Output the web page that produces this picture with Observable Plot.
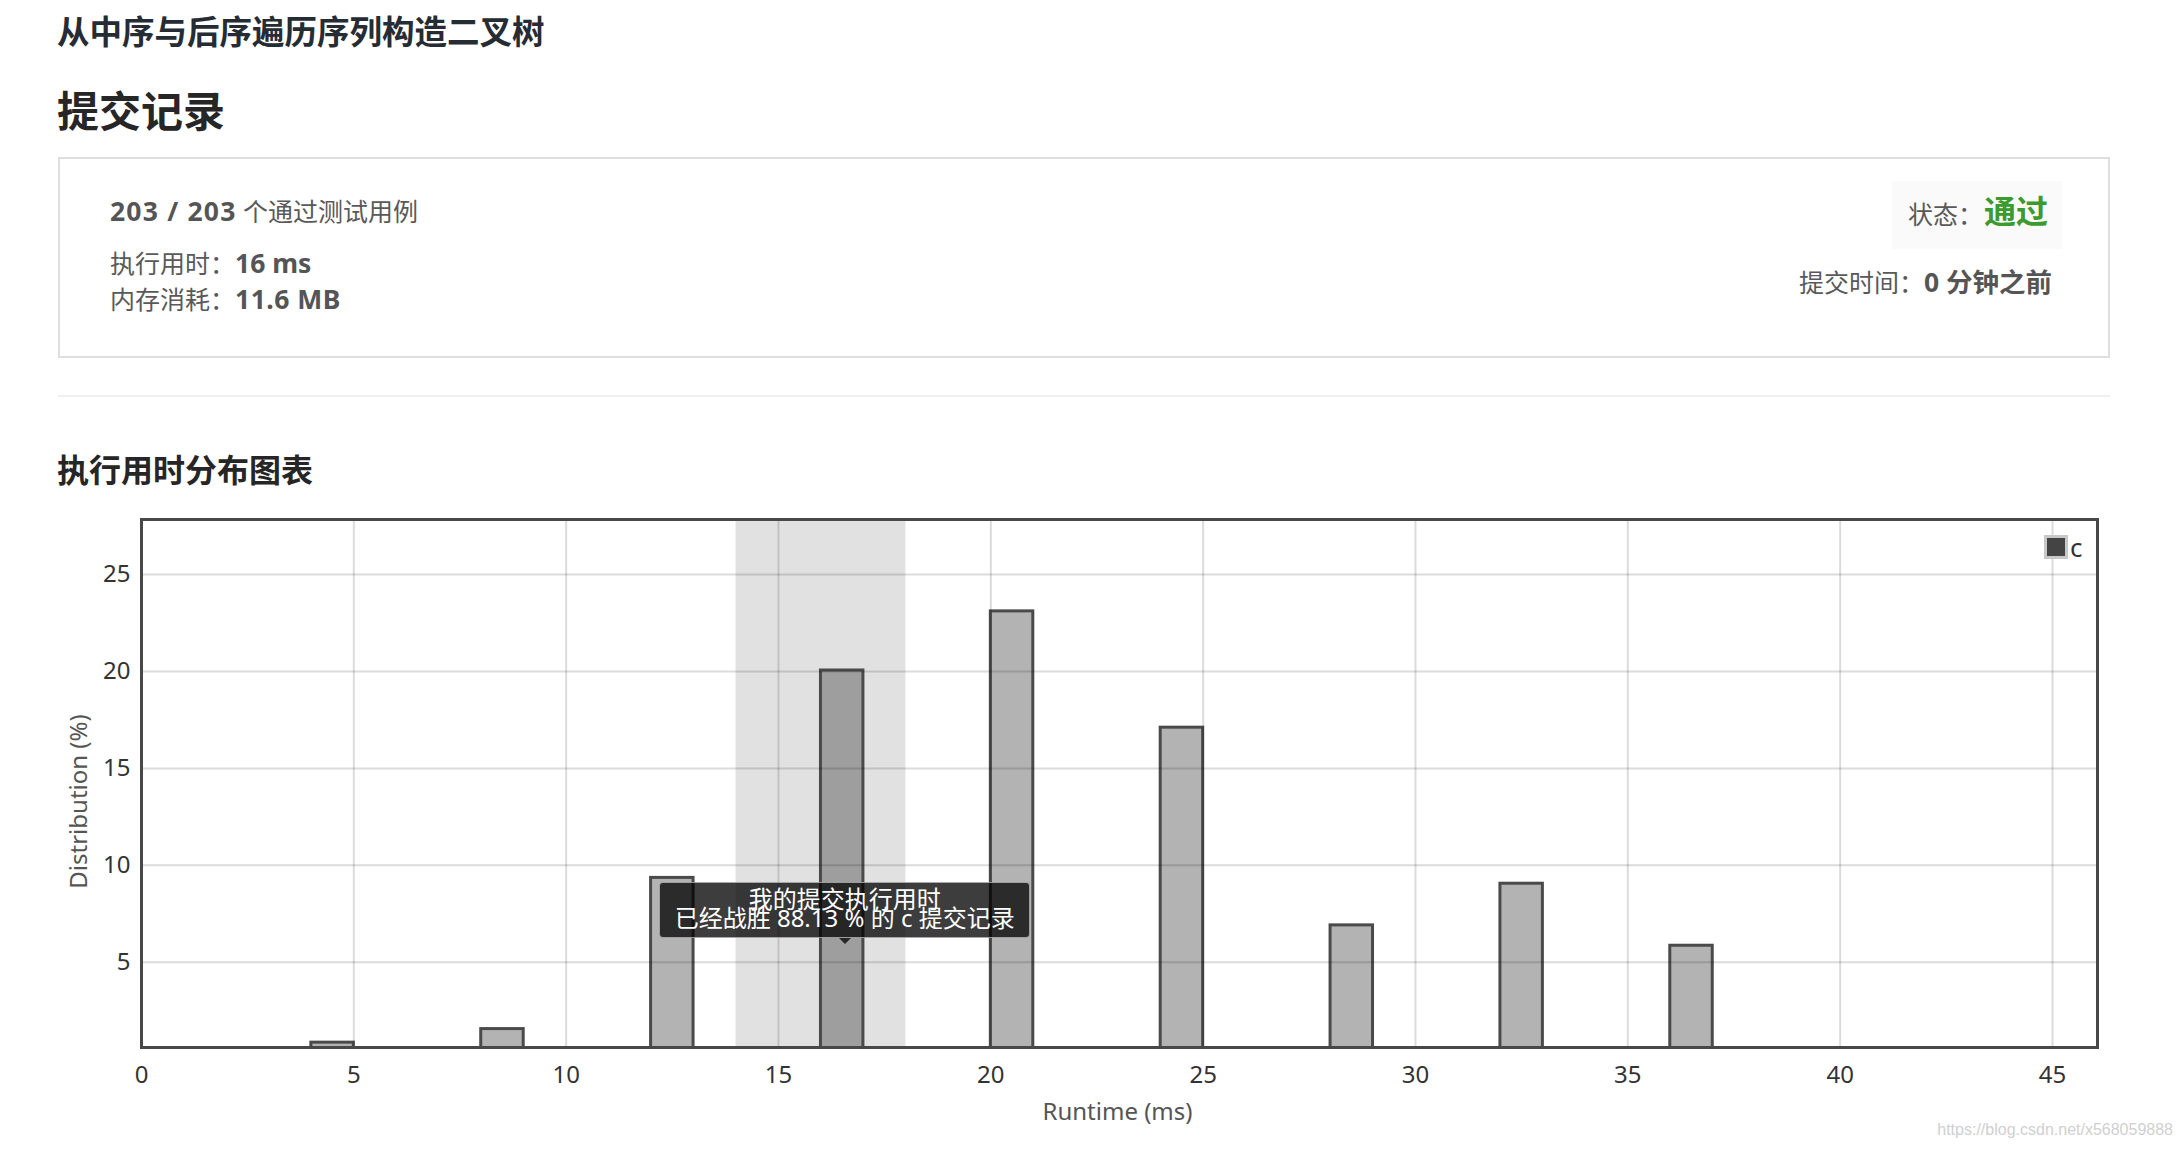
<!DOCTYPE html>
<html>
<head>
<meta charset="utf-8">
<script src="https://cdn.jsdelivr.net/npm/d3@7"></script>
<script src="https://cdn.jsdelivr.net/npm/@observablehq/plot@0.6"></script>
<style>
  html, body { margin: 0; padding: 0; background: #fff; }
  body { width: 2184px; height: 1150px; position: relative; overflow: hidden;
         font-family: "Noto Sans", "Noto Sans CJK SC", sans-serif; }
  .abs { position: absolute; white-space: nowrap; }
  .info { font-size: 25px; line-height: 25px; color: #595959; }
  .num { font-size: 26.5px; font-weight: 700; color: #555; }
</style>
</head>
<body>
<div class="abs" style="left:57px;top:14px;font-size:32.5px;line-height:32.5px;font-weight:600;color:#262c33;font-family:'Noto Sans CJK SC',sans-serif;">从中序与后序遍历序列构造二叉树</div>
<div class="abs" style="left:57px;top:90px;font-size:42px;line-height:42px;font-weight:700;color:#262626;">提交记录</div>

<div class="abs" style="left:58px;top:157px;width:2052px;height:201px;border:2px solid #dedede;box-sizing:border-box;"></div>
<div class="abs info" style="left:110px;top:199px;"><span class="num" style="letter-spacing:1.2px">203 / 203</span> 个通过测试用例</div>
<div class="abs info" style="left:110px;top:251px;">执行用时：<span class="num">16 ms</span></div>
<div class="abs info" style="left:110px;top:287px;">内存消耗：<span class="num" style="letter-spacing:0.5px">11.6 MB</span></div>

<div class="abs" style="left:1892px;top:181px;width:170px;height:68px;background:#fafafa;"></div>
<div class="abs info" style="left:1908px;top:202px;">状态：</div>
<div class="abs" style="left:1984px;top:195px;font-size:32px;line-height:32px;font-weight:700;color:#3d9a2e;">通过</div>
<div class="abs info" style="right:132px;top:270px;">提交时间：<span class="num">0 分钟之前</span></div>

<div class="abs" style="left:58px;top:395px;width:2052px;height:2px;background:#efefef;"></div>
<div class="abs" style="left:57px;top:454px;font-size:32px;line-height:32px;font-weight:700;color:#262626;">执行用时分布图表</div>

<div id="chart" class="abs" style="left:0;top:490px;"></div>
<div id="legend" class="abs" style="left:2044px;top:535px;display:flex;align-items:center;"></div>
<div id="tip" class="abs" style="top:882px;width:371px;height:56px;box-sizing:border-box;background:rgba(0,0,0,0.76);border:1px solid rgba(255,255,255,0.55);border-radius:4px;color:#fff;font-size:24px;line-height:19px;text-align:center;padding-top:6px;"></div>
<div id="tipArrow" class="abs" style="top:938px;width:0;height:0;border-left:6px solid transparent;border-right:6px solid transparent;border-top:6px solid rgba(0,0,0,0.76);"></div>

<div class="abs" style="right:11px;top:1122px;font-size:16px;line-height:16px;color:#d0d0d0;font-family:'Liberation Sans Narrow','Liberation Sans',sans-serif;">https://blog.csdn.net/x568059888</div>

<script>
// ---- data ----
const runtimes = [4, 8, 12, 16, 20, 24, 28, 32, 36];           // ms (bin start)
const distribution = [0.85, 1.55, 9.35, 20.05, 23.1, 17.1, 6.9, 9.05, 5.85]; // %
const binWidth = 1;
const myRuntime = 16;
const highlightRange = [14, 18];
const xTicks = [0, 5, 10, 15, 20, 25, 30, 35, 40, 45];
const yTicks = [5, 10, 15, 20, 25];
const xDomain = [0, 46.06];
const yDomain = [0.6, 27.84];
const languages = ["c"];
const beatPercent = 88.13;
const xLabel = "Runtime (ms)";
const yLabel = "Distribution (%)";

const bars = runtimes.map((r, i) => ({x1: r, x2: r + binWidth, y: distribution[i], mine: r === myRuntime}));

const plot = Plot.plot({
  width: 2184,
  height: 660,
  marginTop: 29,
  marginRight: 87,
  marginBottom: 103,
  marginLeft: 141,
  style: {fontFamily: '"Noto Sans", "Liberation Sans", sans-serif', fontSize: "24px", color: "#333", background: "transparent", overflow: "visible"},
  x: {domain: xDomain},
  y: {domain: yDomain},
  marks: [
    Plot.rect([highlightRange], {x1: d => d[0], x2: d => d[1], fill: "#e1e1e1"}),
    Plot.rect(bars.filter(d => !d.mine), {x1: "x1", x2: "x2", y1: () => 0, y2: "y", fill: "#b3b3b3", stroke: "#4a4a4a", strokeWidth: 3, clip: true}),
    Plot.rect(bars.filter(d => d.mine), {x1: "x1", x2: "x2", y1: () => 0, y2: "y", fill: "#9e9e9e", stroke: "#4a4a4a", strokeWidth: 3, clip: true}),
    Plot.gridX(xTicks.filter(t => t > 0), {stroke: "#000", strokeOpacity: 0.14, strokeWidth: 2}),
    Plot.gridY(yTicks, {stroke: "#000", strokeOpacity: 0.14, strokeWidth: 2}),
    Plot.frame({stroke: "#484848", strokeWidth: 3}),
    Plot.axisX(xTicks, {tickSize: 0, tickPadding: 18, label: null, fill: "#333"}),
    Plot.axisY(yTicks, {tickSize: 0, tickPadding: 11, label: null, fill: "#333"}),
    Plot.text([xLabel], {text: d => d, frameAnchor: "bottom", textAnchor: "middle", lineAnchor: "bottom", dy: 72, dx: -2, fill: "#555"}),
    Plot.text([yLabel], {text: d => d, frameAnchor: "left", textAnchor: "middle", rotate: -90, lineAnchor: "top", dx: -72, dy: 18, fill: "#555"})
  ]
});
document.getElementById("chart").appendChild(plot);

// legend
const legend = document.getElementById("legend");
languages.forEach(lang => {
  const sw = document.createElement("div");
  sw.style.cssText = "width:18px;height:18px;background:#444;border:3px solid #c8c8c8;";
  const lab = document.createElement("div");
  lab.textContent = lang;
  lab.style.cssText = "font-size:26px;line-height:24px;color:#333;margin-left:2px;font-family:'Noto Sans','Liberation Sans',sans-serif;";
  legend.appendChild(sw);
  legend.appendChild(lab);
});

// tooltip positioned from the x scale
const xs = plot.scale("x");
const cx = xs.apply(myRuntime + binWidth / 2) + 3;
const tip = document.getElementById("tip");
tip.innerHTML = "我的提交执行用时<br>已经战胜 " + beatPercent + " % 的 " + languages[0] + " 提交记录";
tip.style.left = (cx - 371 / 2) + "px";
document.getElementById("tipArrow").style.left = (cx - 6) + "px";
</script>
</body>
</html>
